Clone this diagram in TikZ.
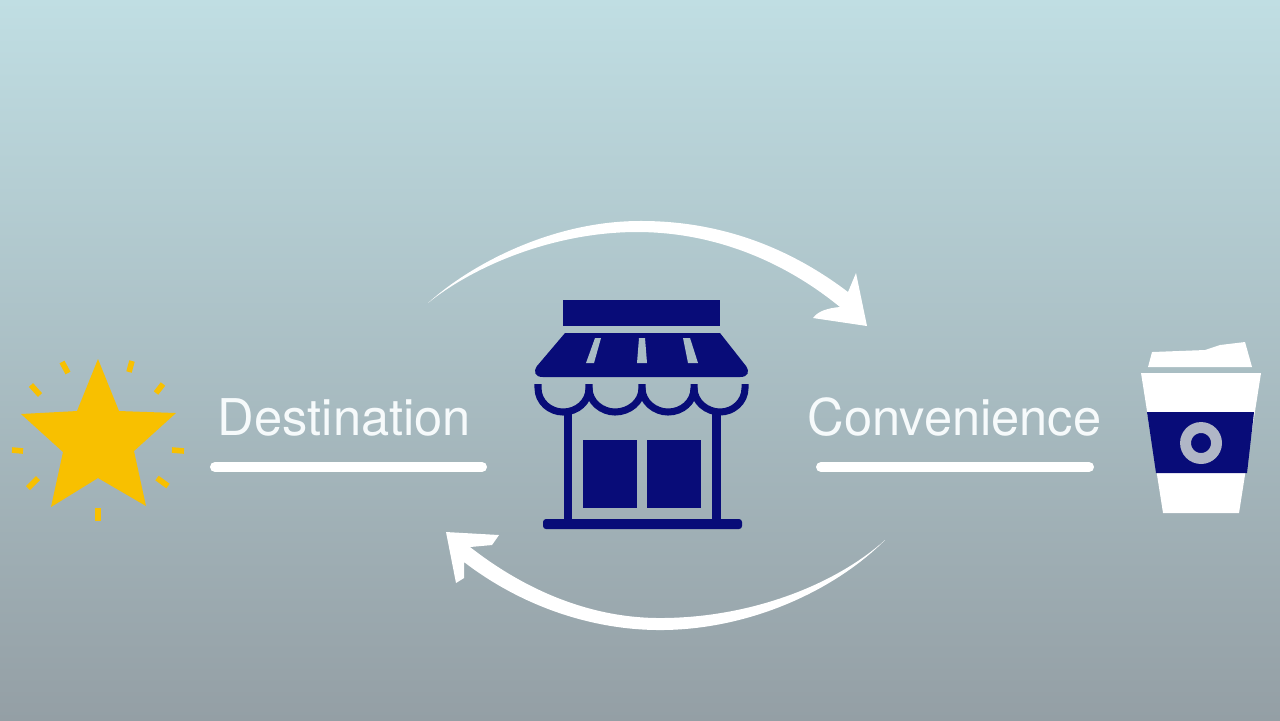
\documentclass[tikz,border=0pt]{standalone}
\usepackage{fontspec}
\setmainfont{TeX Gyre Heros}
\definecolor{storeblue}{RGB}{8,12,120}
\definecolor{stargold}{RGB}{248,192,0}
\definecolor{bgtop}{RGB}{192,222,227}
\definecolor{bgmid}{RGB}{169,189,197}
\definecolor{bgbottom}{RGB}{148,159,165}
\definecolor{ringgrey}{RGB}{176,182,198}
\definecolor{textwhite}{RGB}{246,250,251}
\tikzset{
    caption/.style={text=textwhite,font=\fontsize{14.4}{17}\selectfont,inner sep=0pt,anchor=base},
    underline/.style={draw=white,line width=2.85pt,line cap=round},
    ray/.style={draw=stargold,line width=1.6pt},
    scallop/.style={draw=storeblue,line width=2pt},
}

\begin{document}
\begin{tikzpicture}[x=0.01cm,y=-0.01cm]
    \useasboundingbox (0,0) rectangle (1280,720);
    \shade[top color=bgtop,middle color=bgmid,bottom color=bgbottom] (0,0) rectangle (1280,720);

    % star
    \fill[stargold] (98,359)--(119,411)--(176,413)--(134,451)--(146,506)--(98,478)--(51,507)--(63,452)--(21,414)--(77,411)--cycle;
    \draw[ray] (62,362)--(68,373);
    \draw[ray] (132,361)--(129,372);
    \draw[ray] (163,384)--(156,393);
    \draw[ray] (172,450)--(184,451);
    \draw[ray] (157,478)--(168,486);
    \draw[ray] (98,508)--(98,521);
    \draw[ray] (38,478)--(28,488);
    \draw[ray] (12,450)--(23,451);
    \draw[ray] (31,385)--(40,395);

    % labels
    \node[caption] (destination) at (344.5,435) {Destination};
    \node[caption] (convenience) at (954.5,435) {Convenience};
    \coordinate (destleft) at (215,467);
    \coordinate (destright) at (482,467);
    \coordinate (convleft) at (821,467);
    \coordinate (convright) at (1089,467);
    \draw[underline] (destleft)--(destright);
    \draw[underline] (convleft)--(convright);

    % arrows
    \fill[white] (428,303) .. controls (470,265) and (550,222) .. (637,221)
        .. controls (720,220) and (790,248) .. (848,292)
        --(856,273)--(867,326)--(813,318) .. controls (818,311) and (828,308) .. (840,307)
        .. controls (785,262) and (715,232) .. (637,232)
        .. controls (555,232) and (475,265) .. cycle;
    \fill[white] (885,540) .. controls (835,585) and (750,618) .. (660,618)
        .. controls (590,618) and (525,590) .. (470,547)
        --(492,545)--(499,535)--(446,532)--(456,583)--(464,578)--(464,562)
        .. controls (520,605) and (590,630) .. (660,630)
        .. controls (750,630) and (835,590) .. cycle;

    % store
    \fill[storeblue] (563,300) rectangle (720,326);
    \fill[storeblue] (565,333)--(720,333)--(746,366) .. controls (750,372) and (748,377) .. (740,377)
        --(543,377) .. controls (535,377) and (533,372) .. (537,366)--cycle;
    \fill[bgmid] (595,338)--(601,338)--(594,363)--(586,363)--cycle;
    \fill[bgmid] (639,338)--(645,338)--(647,363)--(637,363)--cycle;
    \fill[bgmid] (683,338)--(690,338)--(698,363)--(688,363)--cycle;
    \draw[scallop] (538,384)--(538,388) .. controls (538,402) and (550,412) .. (563,412)
        .. controls (577,412) and (589,402) .. (589,388)--(589,384);
    \draw[scallop] (589,388) .. controls (589,402) and (602,412) .. (615,412)
        .. controls (629,412) and (642,402) .. (642,388)--(642,384);
    \draw[scallop] (642,388) .. controls (642,402) and (655,412) .. (668,412)
        .. controls (682,412) and (694,402) .. (694,388)--(694,384);
    \draw[scallop] (694,388) .. controls (694,402) and (707,412) .. (720,412)
        .. controls (733,412) and (745,402) .. (745,388)--(745,384);
    \fill[storeblue] (564,412) rectangle (572,522);
    \fill[storeblue] (712,412) rectangle (721,522);
    \fill[storeblue] (583,440) rectangle (637,508);
    \fill[storeblue] (647,440) rectangle (701,508);
    \fill[storeblue,rounded corners=0.03cm] (543,519) rectangle (742,529);

    % cup
    \fill[white] (1148,367)--(1152,352)--(1205,350)--(1220,345)--(1245,342)--(1252,367)--cycle;
    \fill[white] (1141,373)--(1261,373)--(1239,513)--(1163,513)--cycle;
    \fill[storeblue] (1147,412)--(1254,412)--(1247,473)--(1156,473)--cycle;
    \draw[ringgrey,line width=3.1pt] (1201,443) circle (15.5);
\end{tikzpicture}
\end{document}
